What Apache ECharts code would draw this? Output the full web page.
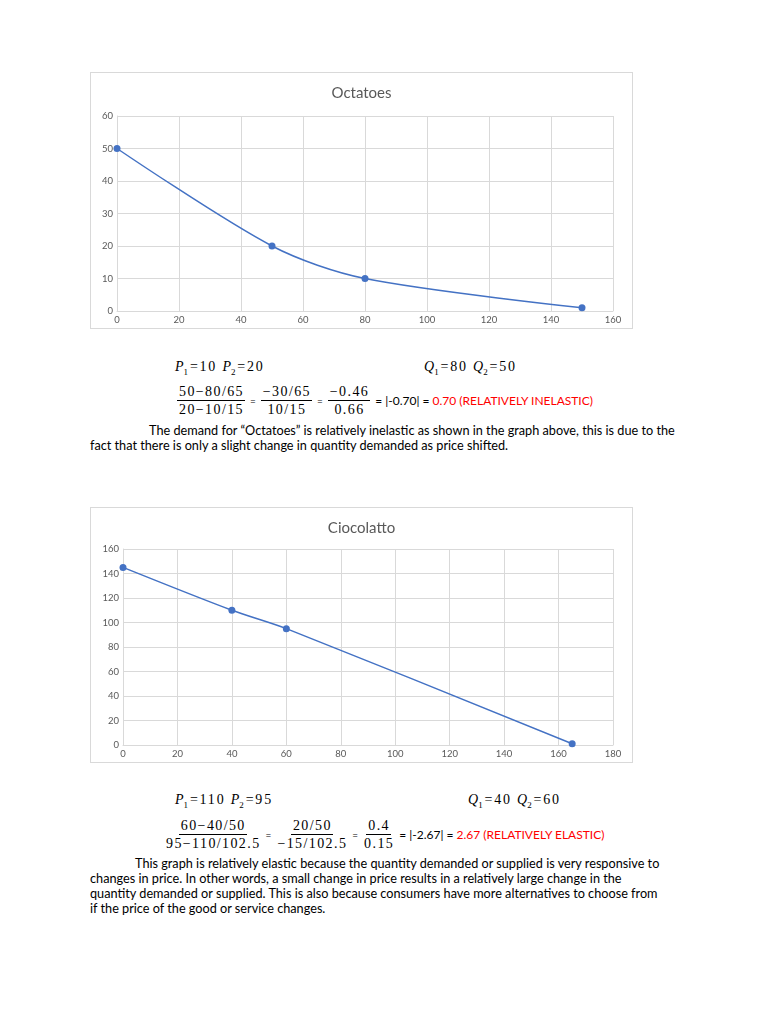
<!DOCTYPE html>
<html><head><meta charset="utf-8">
<script src="https://cdn.jsdelivr.net/npm/echarts@6/dist/echarts.min.js"></script>
<style>
html,body{margin:0;padding:0;background:#fff;width:768px;height:1024px;overflow:hidden;font-family:Lato,"Open Sans",sans-serif;}
.box{position:absolute;border:1px solid #d9d9d9;box-sizing:border-box;}
.abs{position:absolute;white-space:nowrap;}
.math{font-family:"Liberation Serif","DejaVu Serif",serif;font-size:14px;color:#000;letter-spacing:1.8px;}
.math i{letter-spacing:0;}
.math sub{font-size:9px;}
.row{position:absolute;display:flex;align-items:center;white-space:nowrap;font-size:12px;color:#000;}
.frac{display:inline-flex;flex-direction:column;align-items:center;font-family:"Liberation Serif","DejaVu Serif",serif;font-size:14px;line-height:15px;letter-spacing:1.4px;}
.frac .n{border-bottom:1px solid #000;padding:0 1px 1px 2px;}
.frac .d{padding-top:1px;padding-left:1px;}
.eq{margin:0 5px;font-size:10px;}
.red{color:#ff0000;}
.para{position:absolute;font-size:12.7px;line-height:15px;color:#000;white-space:nowrap;}
</style></head>
<body>
<div id="c1" class="box" style="left:90px;top:72px;width:543px;height:257px;"></div>
<div class="abs math" style="left:175px;top:359px;"><i>P</i><sub>1</sub>=10 <i>P</i><sub>2</sub>=20</div>
<div class="abs math" style="left:424px;top:359px;"><i>Q</i><sub>1</sub>=80 <i>Q</i><sub>2</sub>=50</div>
<div class="row" style="left:177px;top:384px;">
  <span class="frac"><span class="n">50−80/65</span><span class="d">20−10/15</span></span>
  <span class="eq">=</span>
  <span class="frac"><span class="n">−30/65</span><span class="d">10/15</span></span>
  <span class="eq">=</span>
  <span class="frac"><span class="n">−0.46</span><span class="d">0.66</span></span>
  <span style="margin-left:5px;">= |-0.70| = <span class="red">0.70 (RELATIVELY INELASTIC)</span></span>
</div>
<div class="para" style="left:90px;top:423px;"><span style="padding-left:59px;">The demand for “Octatoes” is relatively inelastic as shown in the graph above, this is due to the</span><br>fact that there is only a slight change in quantity demanded as price shifted.</div>

<div id="c2" class="box" style="left:90px;top:507px;width:543px;height:256px;"></div>
<div class="abs math" style="left:175px;top:792px;"><i>P</i><sub>1</sub>=110 <i>P</i><sub>2</sub>=95</div>
<div class="abs math" style="left:468px;top:792px;"><i>Q</i><sub>1</sub>=40 <i>Q</i><sub>2</sub>=60</div>
<div class="row" style="left:165px;top:818px;">
  <span class="frac"><span class="n">60−40/50</span><span class="d">95−110/102.5</span></span>
  <span class="eq">=</span>
  <span class="frac"><span class="n">20/50</span><span class="d">−15/102.5</span></span>
  <span class="eq">=</span>
  <span class="frac"><span class="n">0.4</span><span class="d">0.15</span></span>
  <span style="margin-left:5px;">= |-2.67| = <span class="red">2.67 (RELATIVELY ELASTIC)</span></span>
</div>
<div class="para" style="left:90px;top:856px;"><span style="padding-left:45px;">This graph is relatively elastic because the quantity demanded or supplied is very responsive to</span><br>changes in price. In other words, a small change in price results in a relatively large change in the<br>quantity demanded or supplied. This is also because consumers have more alternatives to choose from<br>if the price of the good or service changes.</div>

<script>
var octQ = [0, 50, 80, 150];
var octP = [50, 20, 10, 1];
var cioQ = [0, 40, 60, 165];
var cioP = [145, 110, 95, 1];
var xTicks1 = [0, 20, 40, 60, 80, 100, 120, 140, 160];
var yTicks1 = [0, 10, 20, 30, 40, 50, 60];
var xTicks2 = [0, 20, 40, 60, 80, 100, 120, 140, 160, 180];
var yTicks2 = [0, 20, 40, 60, 80, 100, 120, 140, 160];

function pairs(xs, ys){ return xs.map(function(x,i){return [x, ys[i]];}); }

function makeOption(title, xs, ys, xt, yt, grid){
  var lblColor = '#595959';
  return {
    animation:false,
    title:{text:title,left:'center',top:8,textStyle:{fontFamily:'Lato',fontSize:15,fontWeight:'normal',color:'#595959'}},
    grid:grid,
    xAxis:{type:'value',min:xt[0],max:xt[xt.length-1],interval:xt[1]-xt[0],
      axisLine:{show:true,lineStyle:{color:'#d9d9d9'}},axisTick:{show:false},
      splitLine:{show:true,lineStyle:{color:'#d9d9d9'}},
      axisLabel:{color:lblColor,fontSize:9.5,fontFamily:'Lato',margin:4}},
    yAxis:{type:'value',min:yt[0],max:yt[yt.length-1],interval:yt[1]-yt[0],
      axisLine:{show:true,lineStyle:{color:'#d9d9d9'}},axisTick:{show:false},
      splitLine:{show:true,lineStyle:{color:'#d9d9d9'}},
      axisLabel:{color:lblColor,fontSize:9.5,fontFamily:'Lato',margin:4}},
    series:[{type:'line',data:pairs(xs,ys),smooth:0.3,symbol:'circle',symbolSize:7,
      lineStyle:{color:'#4472c4',width:1.5},itemStyle:{color:'#4472c4'}}]
  };
}

echarts.init(document.getElementById('c1')).setOption(
  makeOption('Octatoes', octQ, octP, xTicks1, yTicks1, {left:26,right:19,top:43,bottom:17}));
echarts.init(document.getElementById('c2')).setOption(
  makeOption('Ciocolatto', cioQ, cioP, xTicks2, yTicks2, {left:32,right:19,top:41,bottom:17}));
</script>
</body></html>
